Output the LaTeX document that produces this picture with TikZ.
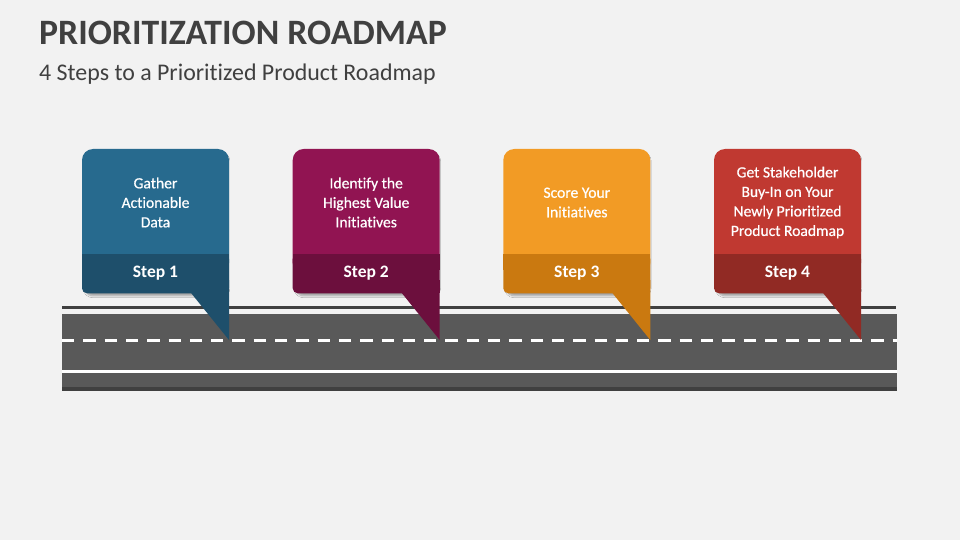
\documentclass[tikz,border=0pt]{standalone}
\usepackage{fontspec}
\setmainfont{Carlito}[Ligatures=NoCommon]
\newfontfamily\cardfont{Carlito}[Ligatures=NoCommon, FakeBold=0.6]
\usetikzlibrary{shadows.blur}
\definecolor{bg}{HTML}{F2F2F2}
\definecolor{ink}{HTML}{404040}
\definecolor{road}{HTML}{595959}
\definecolor{roadedge}{HTML}{404040}
\definecolor{cA}{HTML}{276A8E}\definecolor{bA}{HTML}{1E4F6B}
\definecolor{cB}{HTML}{911452}\definecolor{bB}{HTML}{6C0F3D}
\definecolor{cC}{HTML}{F29B25}\definecolor{bC}{HTML}{CA7910}
\definecolor{cD}{HTML}{C03931}\definecolor{bD}{HTML}{912A24}
\tikzset{
  cardtext/.style={text=white, align=center, font=\cardfont\fontsize{15.6}{19.5}\selectfont, inner sep=0pt},
  steptext/.style={text=white, font=\fontsize{17.5}{19}\selectfont\bfseries, inner sep=0pt},
}
% #1 left x, #2 top colour, #3 band colour, #4 name, #5 text, #6 step label
\newcommand{\stepcard}[6]{%
  \path[blur shadow={shadow xshift=1pt, shadow yshift=-2.5pt, shadow blur steps=6, shadow opacity=35}, rounded corners=8pt]
    (#1+2,151) rectangle ++(143,142.3);
  \fill[#3] (#1+109.3,280) -- (#1+147,280) -- (#1+147,340) -- (#1+109.3,293.3) -- cycle;
  \fill[#2, rounded corners=11pt] (#1,149) rectangle ++(147,125);
  \fill[#3, rounded corners=5pt] (#1,254) rectangle ++(147,39.3);
  \fill[#3] (#1,254) rectangle ++(147,16);
  \fill[#3] (#1+130,280) rectangle ++(17,13.3);
  \node[cardtext] (#4t) at (#1+73.5,202.5) {#5};
  \node[steptext] (#4s) at (#1+73.5,273.5) {#6};
}
\begin{document}
\begin{tikzpicture}[x=1pt,y=-1pt]
\useasboundingbox (0,0) rectangle (960,540);
\fill[bg] (0,0) rectangle (960,540);
\node[anchor=base west, inner sep=0pt, text=ink, font=\fontsize{35.7}{38}\selectfont\bfseries] (title) at (39,45) {PRIORITIZATION ROADMAP};
\node[anchor=base west, inner sep=0pt, text=ink, font=\fontsize{23.9}{28}\selectfont] (subtitle) at (39,81) {4 Steps to a Prioritized Product Roadmap};
% road
\fill[roadedge] (62,305.5) rectangle (896,308.7);
\fill[road] (62,314) rectangle (897,387);
\fill[roadedge] (62,387) rectangle (897,390.7);
\fill[white] (62,370) rectangle (897,373);
\draw[white, line width=3.3pt, dash pattern=on 12.3pt off 9pt] (62,340.3) -- (897,340.3);
% cards
\stepcard{82}{cA}{bA}{one}{Gather\\Actionable\\Data}{Step 1}
\stepcard{292.7}{cB}{bB}{two}{Identify the\\Highest Value\\Initiatives}{Step 2}
\stepcard{503.3}{cC}{bC}{three}{Score Your\\Initiatives}{Step 3}
\stepcard{714}{cD}{bD}{four}{Get Stakeholder\\Buy-In on Your\\Newly Prioritized\\Product Roadmap}{Step 4}
\end{tikzpicture}
\end{document}
